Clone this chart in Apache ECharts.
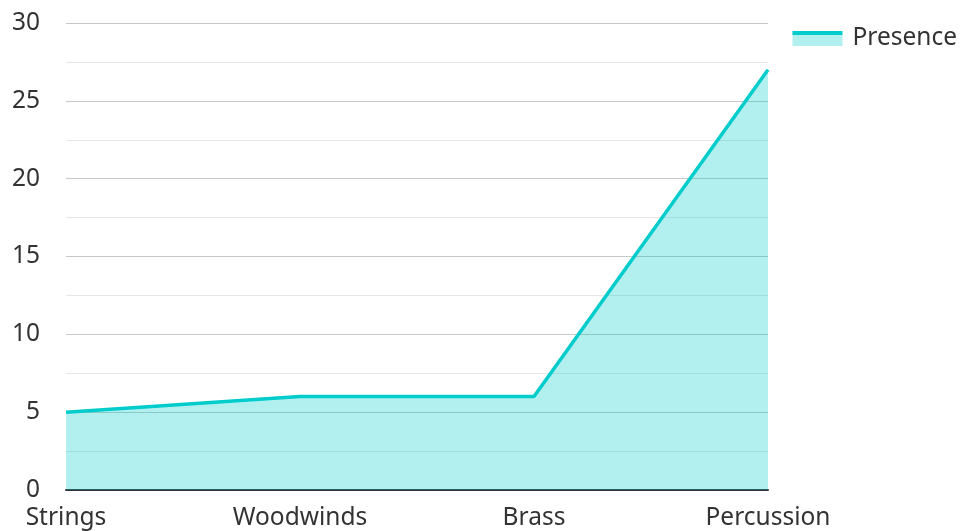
<!DOCTYPE html>
<html><head><meta charset="utf-8">
<script src="https://cdn.jsdelivr.net/npm/echarts@6/dist/echarts.min.js"></script>
<style>html,body{margin:0;padding:0;background:#fff}#c{width:960px;height:531px}</style>
</head><body><div id="c"></div>
<script>
const categories = ['Strings', 'Woodwinds', 'Brass', 'Percussion'];
const presence = [5, 6, 6, 27];
const seriesName = 'Presence';

const chart = echarts.init(document.getElementById('c'), null, {renderer: 'canvas'});
const font = '"Noto Sans", sans-serif';
const fs = 24.5;
chart.setOption({
  animation: false,
  textStyle: {fontFamily: font},
  legend: {
    right: 3, top: 26, padding: 0, itemWidth: 50, itemHeight: 15, itemGap: 10,
    icon: 'rect',
    itemStyle: {
      color: {type: 'linear', x: 0, y: 0, x2: 0, y2: 1, colorStops: [
        {offset: 0, color: '#00cccc'}, {offset: 0.27, color: '#00cccc'},
        {offset: 0.27, color: '#b2efef'}, {offset: 1, color: '#b2efef'}]},
      borderWidth: 0
    },
    textStyle: {fontSize: fs, color: '#333', fontFamily: font, padding: [0, 0, 15, 5]},
    data: [seriesName]
  },
  grid: {left: 66, right: 192, top: 23, bottom: 41, containLabel: false},
  xAxis: {
    type: 'category', data: categories, boundaryGap: false,
    axisLine: {lineStyle: {color: '#333', width: 2}},
    axisTick: {show: false},
    axisLabel: {fontSize: fs, color: '#333', margin: 16, fontFamily: font}
  },
  yAxis: {
    type: 'value', min: 0, max: 30, interval: 5,
    axisLine: {show: false}, axisTick: {show: false},
    axisLabel: {fontSize: fs, color: '#333', margin: 26, fontFamily: font},
    splitLine: {lineStyle: {color: '#c8c8c8', width: 1}},
    minorTick: {show: false, splitNumber: 2},
    minorSplitLine: {show: true, lineStyle: {color: '#e6e6e6', width: 1}}
  },
  series: [{
    name: seriesName, type: 'line', data: presence, showSymbol: false, symbol: 'none',
    lineStyle: {color: '#00cccc', width: 3.5},
    itemStyle: {color: '#00cccc'},
    areaStyle: {color: '#00cccc', opacity: 0.3}
  }]
});
</script></body></html>
